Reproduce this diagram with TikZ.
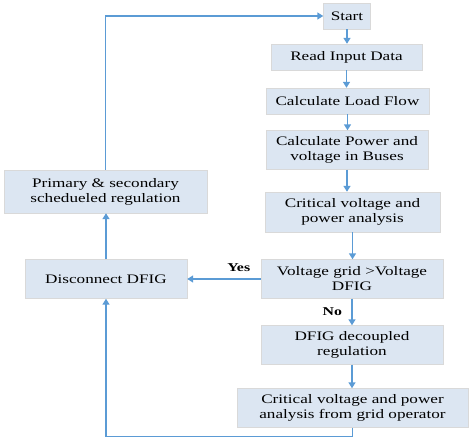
\documentclass[tikz,border=0pt]{standalone}
\usepackage{fontspec}
\setmainfont{Liberation Serif}[FakeStretch=1.32]
\usetikzlibrary{arrows.meta}
\definecolor{boxblue}{HTML}{DCE6F2}
\definecolor{flowblue}{HTML}{5B9BD5}
\tikzset{
  box/.style={fill=boxblue, draw=gray!30, inner sep=0pt, minimum height=26pt,
    align=center, font=\fontsize{13}{15}\selectfont},
  flow/.style={draw=flowblue, line width=1.4pt, -{Triangle[width=7pt,length=6pt]}},
  answer/.style={font=\fontsize{12}{14}\selectfont\bfseries}
}
\begin{document}
\begin{tikzpicture}[x=1pt,y=-1pt]
  \useasboundingbox (0,0) rectangle (474,439);

  \node[box, minimum width=47pt] (start) at (347,16) {Start};
  \node[box, minimum width=151pt] (read) at (346.5,57) {Read Input Data};
  \node[box, minimum width=163pt] (load) at (347.5,101) {Calculate Load Flow};
  \node[box, minimum width=162pt, minimum height=39pt] (power) at (347,150)
    {Calculate Power and\\voltage in Buses};
  \node[box, minimum width=175pt, minimum height=40pt] (crit) at (352.5,212)
    {Critical voltage and\\power analysis};
  \node[box, minimum width=182pt, minimum height=39pt] (volt) at (352,279)
    {Voltage grid >Voltage\\DFIG};
  \node[box, minimum width=182pt, minimum height=39pt] (decoupled) at (352,345)
    {DFIG decoupled\\regulation};
  \node[box, minimum width=231pt, minimum height=39pt] (operator) at (352.5,408)
    {Critical voltage and power\\analysis from grid operator};
  \node[box, minimum width=203pt, minimum height=43pt] (primary) at (105.5,191.5)
    {Primary \& secondary\\schedueled regulation};
  \node[box, minimum width=162pt, minimum height=39pt] (disconnect) at (106,279)
    {Disconnect DFIG};

  \draw[flow] (start.south) -- (start.south |- read.north);
  \draw[flow] (read.south) -- (read.south |- load.north);
  \draw[flow] (load.south) -- (load.south |- power.north);
  \draw[flow] (power.south) -- (power.south |- crit.north);
  \draw[flow] (crit.south) -- (crit.south |- volt.north);
  \draw[flow] (volt.south) -- (volt.south |- decoupled.north)
    node[answer, midway, left=6pt] {No};
  \draw[flow] (decoupled.south) -- (decoupled.south |- operator.north);
  \draw[flow] (volt.west) -- (disconnect.east)
    node[answer, pos=0.3, above=3pt] {Yes};
  \draw[flow] (operator.south) -- ++(0,9) -| (disconnect.south);
  \draw[flow] (disconnect.north) -- (disconnect.north |- primary.south);
  \draw[flow] (primary.north) |- (start.west);
\end{tikzpicture}
\end{document}
